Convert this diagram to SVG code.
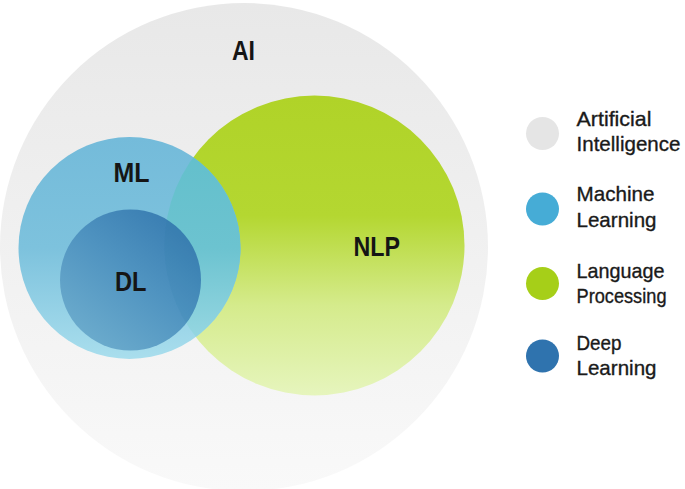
<svg xmlns="http://www.w3.org/2000/svg" width="685" height="489" viewBox="0 0 685 489">
  <defs>
    <linearGradient id="gAI" x1="0" y1="0" x2="0" y2="1">
      <stop offset="0" stop-color="#e8e8e8"/>
      <stop offset="1" stop-color="#f9f9f9"/>
    </linearGradient>
    <linearGradient id="gNLP" x1="0" y1="0" x2="0" y2="1">
      <stop offset="0" stop-color="#b0d328"/>
      <stop offset="0.4" stop-color="#b4d731"/>
      <stop offset="0.7" stop-color="#d5eb8c"/>
      <stop offset="1" stop-color="#e6f5bd"/>
    </linearGradient>
    <linearGradient id="gML" x1="0" y1="0" x2="0" y2="1">
      <stop offset="0" stop-color="#74bbda"/>
      <stop offset="0.5" stop-color="#7dc2dd"/>
      <stop offset="1" stop-color="#a9deed"/>
    </linearGradient>
    <linearGradient id="gOV" x1="0" y1="0" x2="0" y2="1">
      <stop offset="0" stop-color="#62bfcb"/>
      <stop offset="0.5" stop-color="#6cc3d0"/>
      <stop offset="1" stop-color="#9fdbe5"/>
    </linearGradient>
    <linearGradient id="gDL" x1="0.8" y1="0.1" x2="0.2" y2="0.9">
      <stop offset="0" stop-color="#3b7fb3"/>
      <stop offset="0.45" stop-color="#4f93c0"/>
      <stop offset="1" stop-color="#6aaacc"/>
    </linearGradient>
    <clipPath id="cNLP">
      <circle cx="314.5" cy="245.5" r="150"/>
    </clipPath>
    <style>
      .lbl { font-family: "Liberation Sans", Arial, sans-serif; font-weight: bold; font-size: 28px; fill: #151515; }
      .leg { font-family: "Liberation Sans", Arial, sans-serif; font-size: 21px; fill: #1a1a1a; stroke: #1a1a1a; stroke-width: 0.35px; }
    </style>
  </defs>

  <rect width="685" height="489" fill="#ffffff"/>

  <g id="ai">
    <circle cx="244" cy="247" r="244" fill="url(#gAI)"/>
    <text class="lbl" x="232" y="60" textLength="23" lengthAdjust="spacingAndGlyphs">AI</text>
  </g>

  <g id="nlp">
    <circle cx="314.5" cy="245.5" r="150" fill="url(#gNLP)"/>
    <text class="lbl" x="353.5" y="256" textLength="46.5" lengthAdjust="spacingAndGlyphs">NLP</text>
  </g>

  <g id="ml">
    <circle cx="129.5" cy="248" r="111" fill="url(#gML)"/>
    <circle cx="129.5" cy="248" r="111" fill="url(#gOV)" clip-path="url(#cNLP)"/>
    <text class="lbl" x="113.5" y="182" textLength="36" lengthAdjust="spacingAndGlyphs">ML</text>
  </g>

  <g id="dl">
    <circle cx="130.5" cy="280" r="70.5" fill="url(#gDL)"/>
    <circle cx="130.5" cy="280" r="70.5" fill="#1f6e9e" fill-opacity="0.08" clip-path="url(#cNLP)"/>
    <text class="lbl" x="115" y="291" textLength="31.5" lengthAdjust="spacingAndGlyphs">DL</text>
  </g>

  <g id="legend">
    <g id="legend-ai">
      <circle cx="542.5" cy="133.5" r="16.5" fill="#e5e5e5"/>
      <text class="leg" x="576.5" y="126" textLength="75" lengthAdjust="spacingAndGlyphs">Artificial</text>
      <text class="leg" x="576.5" y="151" textLength="104" lengthAdjust="spacingAndGlyphs">Intelligence</text>
    </g>
    <g id="legend-ml">
      <circle cx="542.5" cy="209" r="16.5" fill="#46acd6"/>
      <text class="leg" x="576.5" y="201" textLength="78" lengthAdjust="spacingAndGlyphs">Machine</text>
      <text class="leg" x="576.5" y="227" textLength="80" lengthAdjust="spacingAndGlyphs">Learning</text>
    </g>
    <g id="legend-nlp">
      <circle cx="542.5" cy="283.5" r="16.5" fill="#a6cf18"/>
      <text class="leg" x="576.5" y="278" textLength="88" lengthAdjust="spacingAndGlyphs">Language</text>
      <text class="leg" x="576.5" y="303" textLength="90" lengthAdjust="spacingAndGlyphs">Processing</text>
    </g>
    <g id="legend-dl">
      <circle cx="542.5" cy="356" r="16.5" fill="#2f73ae"/>
      <text class="leg" x="576.5" y="349.5" textLength="45" lengthAdjust="spacingAndGlyphs">Deep</text>
      <text class="leg" x="576.5" y="375" textLength="80" lengthAdjust="spacingAndGlyphs">Learning</text>
    </g>
  </g>
</svg>
